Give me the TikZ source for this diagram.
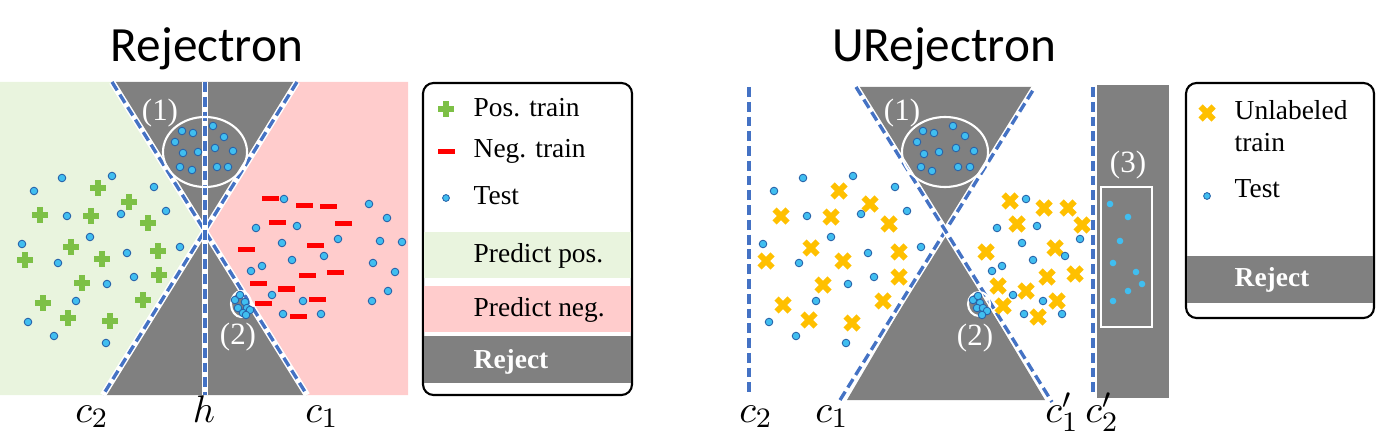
\documentclass[tikz,border=0pt]{standalone}
\usepackage{fontspec}
\setmainfont{Liberation Serif}
\newfontfamily\titlefont{Carlito}
\usepackage{tikz}
\usetikzlibrary{calc}

\definecolor{posgreen}{RGB}{233,244,222}
\definecolor{negpink}{RGB}{255,204,204}
\definecolor{rejgray}{RGB}{128,128,128}
\definecolor{dotblue}{RGB}{64,190,240}
\definecolor{dotedge}{RGB}{40,100,170}
\definecolor{plusgreen}{RGB}{125,192,70}
\definecolor{crossyellow}{RGB}{255,192,0}
\definecolor{lineblue}{RGB}{68,114,196}

\begin{document}
\begin{tikzpicture}[x=0.01cm, y=-0.01cm,
  sepline/.style={lineblue, line width=0.95pt, dash pattern=on 2.8pt off 1.4pt},
  sepback/.style={white, line width=1.8pt},
  testdot/.style={fill=dotblue, draw=dotedge, line width=0.25pt},
  posmark/.style={plusgreen, line width=1.5pt},
  negmark/.style={fill=red},
  unlmark/.style={crossyellow, line width=1.7pt},
  zonelabel/.style={text=white, font=\fontsize{8.8}{9}\selectfont},
  legtext/.style={anchor=base west, inner sep=0pt, font=\fontsize{7.8}{9}\selectfont},
  axislabel/.style={anchor=base, inner sep=0pt, font=\fontsize{11}{12}\selectfont},
  titletext/.style={anchor=base, inner sep=0pt, font=\titlefont\fontsize{14}{16}\selectfont}]
\useasboundingbox (0,0) rectangle (1380,446);

% ---------- Rejectron ----------
\node[titletext] (rejtitle) at (207,62) {Rejectron};
\coordinate (lcross) at (205,232);
\fill[posgreen] (0,82) -- (112,82) -- (lcross) -- (103,395) -- (0,395) -- cycle;
\fill[negpink] (297,82) -- (408,82) -- (408,395) -- (307,395) -- (lcross) -- cycle;
\fill[rejgray] (112,82) -- (297,82) -- (lcross) -- cycle;
\fill[rejgray] (103,395) -- (307,395) -- (lcross) -- cycle;
\foreach \a/\b in {112/307, 297/103, 205/205} {
  \draw[sepback] (\a,82) -- (\b,395);
  \draw[sepline] (\a,82) -- (\b,395);
}
\draw[white, line width=0.6pt] (205,152) ellipse [x radius=42, y radius=35];
\draw[white, line width=0.6pt] (241,304) ellipse [x radius=10, y radius=13];
\node[zonelabel] (lzone1) at (160,113) {(1)};
\node[zonelabel] (lzone2) at (238,337) {(2)};

% labelled training points
\foreach \x/\y in {98/188,129/202,40/215,91/216,148/223,71/247,158/251,25/260,102/259,159/275,82/283,43/303,143/300,68/318,110/321}
  \draw[posmark] (\x-8,\y) -- (\x+8,\y) (\x,\y-8) -- (\x,\y+8);
\foreach \x/\y in {270/199,304/206,328/207,277/223,343/224,246/250,315/246,307/276,335/273,258/284,286/289,317/299,263/303,298/316}
  \fill[negmark] (\x-8.5,\y-2.5) rectangle (\x+8.5,\y+2.5);

% test points
\foreach \x/\y in {62/178,112/176,34/191,154/187,67/216,121/214,166/211,90/237,22/244,180/247,58/263,127/253,134/277,107/284,76/301,28/322,54/336,106/343,
    182/131,193/133,175/142,183/153,198/152,180/167,192/170,213/126,224/137,215/148,233/151,217/167,228/167,
    284/199,369/204,387/218,256/228,297/226,338/239,380/241,402/242,282/243,324/256,292/260,262/266,251/271,373/263,395/272,388/291,372/301,272/295,303/301,283/314,321/314,
    235/300,240/295,245/302,238/308,247/308,250/310,243/313,246/315}
  \filldraw[testdot] (\x,\y) circle[radius=3.8];

\node[axislabel] (lc2) at (92,422) {$c_2$};
\node[axislabel] (lh) at (204,422) {$h$};
\node[axislabel] (lc1) at (322,422) {$c_1$};

% legend
\draw[line width=0.6pt, rounded corners=3pt] (423,83) rectangle (632,395);
\fill[posgreen] (423.8,232) rectangle (631.2,278);
\fill[negpink] (423.8,286) rectangle (631.2,332);
\fill[rejgray] (423.8,336) rectangle (631.2,383);
\draw[posmark] (438,109) -- (454,109) (446,101) -- (446,117);
\fill[negmark] (437.5,149.5) rectangle (454.5,154.5);
\filldraw[testdot] (446,198) circle[radius=3.4];
\node[legtext] (lpos) at (473,117) {Pos. train};
\node[legtext] (lneg) at (473,158) {Neg. train};
\node[legtext] (ltest) at (473,205) {Test};
\node[legtext] (lpredpos) at (473,263) {Predict pos.};
\node[legtext] (lpredneg) at (473,317) {Predict neg.};
\node[legtext, text=white, font=\fontsize{7.8}{9}\selectfont\bfseries] (lrej) at (473,368) {Reject};

% ---------- URejectron ----------
\node[titletext] (urejtitle) at (944,62) {URejectron};
\coordinate (rcross) at (945,233);
\fill[rejgray] (858,87) -- (1033,87) -- (rcross) -- cycle;
\fill[rejgray] (847,400) -- (1045,400) -- (rcross) -- cycle;
\fill[rejgray] (1097,85) rectangle (1169,398);
\foreach \a/\b/\c/\d in {840/400/1035/87, 856/87/1052/402} {
  \draw[sepback] (\a,\b) -- (\c,\d);
  \draw[sepline] (\a,\b) -- (\c,\d);
}
\draw[sepline] (749,87) -- (749,397);
\draw[sepline] (1093,87) -- (1093,397);
\draw[white, line width=0.6pt] (945,152) ellipse [x radius=43, y radius=35];
\draw[white, line width=0.6pt] (979,304) ellipse [x radius=11, y radius=12];
\draw[white, line width=0.6pt] (1101,187) rectangle (1152,327);
\node[zonelabel] (rzone1) at (902,113) {(1)};
\node[zonelabel] (rzone2) at (975,338) {(2)};
\node[zonelabel] (rzone3) at (1128,165) {(3)};

% unlabeled training points
\foreach \x/\y in {839/191,870/204,781/216,831/217,889/224,811/248,899/252,766/261,843/261,899/277,823/285,783/305,883/301,809/320,852/323,
    1010/201,1044/208,1068/208,1017/224,1082/225,986/252,1055/248,1047/277,1075/274,998/286,1026/291,1057/301,1003/306,1038/317}
  \draw[unlmark] (\x-6.5,\y-6.5) -- (\x+6.5,\y+6.5) (\x-6.5,\y+6.5) -- (\x+6.5,\y-6.5);

% test points
\foreach \x/\y in {803/178,853/176,774/191,895/187,807/216,861/214,907/211,831/237,763/244,921/247,799/263,868/253,874/277,848/284,816/301,769/322,796/336,846/343,
    923/131,934/133,953/126,965/136,917/142,924/154,939/152,956/148,974/151,921/167,932/171,958/167,970/167,
    1026/199,1037/226,997/228,1080/239,1022/243,1065/256,1033/260,1002/266,992/271,1013/295,1043/301,1024/314,1062/314,
    973/300,978/296,980/303,977/308,983/308,987/311,982/315}
  \filldraw[testdot] (\x,\y) circle[radius=3.8];
\foreach \x/\y in {1110/204,1128/217,1120/241,1113/263,1136/272,1142/284,1128/291,1113/301}
  \fill[dotblue] (\x,\y) circle[radius=3.3];

\node[axislabel] (rc2) at (756,422) {$c_2$};
\node[axislabel] (rc1) at (832,422) {$c_1$};
\node[axislabel] (rc1p) at (1062,422) {$c_1'$};
\node[axislabel] (rc2p) at (1102,422) {$c_2'$};

% legend
\draw[line width=0.6pt, rounded corners=3pt] (1186,83) rectangle (1374,318);
\fill[rejgray] (1186.8,256) rectangle (1373.2,303);
\draw[unlmark] (1200.5,106.5) -- (1213.5,119.5) (1200.5,119.5) -- (1213.5,106.5);
\filldraw[testdot] (1207,196) circle[radius=3.4];
\node[legtext] (runl) at (1234,120) {Unlabeled};
\node[legtext] (runl2) at (1234,152) {train};
\node[legtext] (rtest) at (1234,198) {Test};
\node[legtext, text=white, font=\fontsize{7.8}{9}\selectfont\bfseries] (rrej) at (1234,287) {Reject};
\end{tikzpicture}
\end{document}
